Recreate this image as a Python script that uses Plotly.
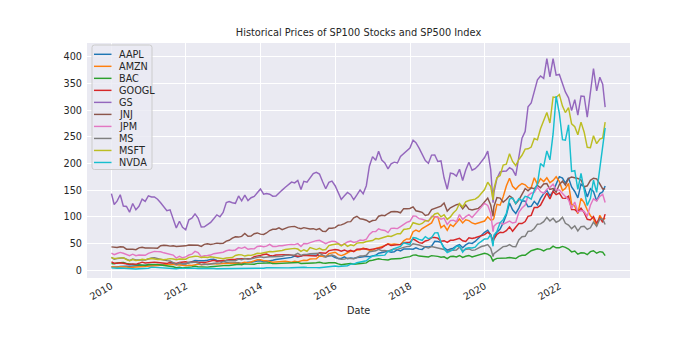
import pandas as pd
import plotly.graph_objects as go

# ---------------- data (adjusted close) ----------------
# dates: first trading day, month ends Jan-2010..Feb-2023 (with the Mar-2020 low), last day
month_ends = [d.strftime("%Y-%m-%d") for d in pd.date_range("2010-01-31", "2023-02-28", freq="ME")]
dates = ["2010-01-04"] + month_ends[:122] + ["2020-03-23"] + month_ends[122:] + ["2023-03-24"]

AAPL = [6.5,
    5.9, 6.3, 7.2, 8.0, 7.9, 7.7, 7.9, 7.5, 8.7, 9.2, 9.5, 9.9,
    10.4, 10.8, 10.7, 10.7, 10.7, 10.3, 12.0, 11.8, 11.7, 12.4, 11.7, 12.4,
    14.0, 16.7, 18.4, 18.0, 17.8, 18.0, 18.8, 20.5, 20.6, 18.4, 18.1, 16.5,
    14.1, 13.8, 13.8, 13.8, 14.0, 12.4, 14.2, 15.3, 15.0, 16.5, 17.6, 17.8,
    15.9, 16.7, 17.1, 18.8, 20.2, 20.8, 21.4, 23.0, 22.7, 24.3, 26.8, 24.9,
    26.5, 29.1, 28.2, 28.4, 29.6, 28.5, 27.6, 25.7, 25.2, 27.3, 27.3, 24.1,
    22.3, 22.2, 25.1, 21.6, 23.1, 22.1, 24.1, 24.6, 26.2, 26.4, 25.7, 27.0,
    28.3, 32.0, 33.6, 33.7, 35.8, 33.8, 34.9, 38.6, 36.3, 39.8, 40.5, 40.0,
    39.6, 42.1, 39.7, 39.2, 44.4, 44.0, 45.3, 54.3, 53.9, 52.3, 42.7, 37.8,
    39.9, 41.6, 45.6, 48.3, 42.2, 47.7, 51.4, 50.5, 54.2, 60.3, 64.9, 71.3,
    75.2, 66.5, 55.5, 61.9, 71.6, 77.5, 89.0, 103.9, 126.2, 113.4, 106.6, 116.7, 130.2,
    129.5, 119.1, 120.1, 129.3, 122.7, 134.9, 143.8, 149.8, 139.7, 148.0, 163.4, 175.7,
    173.0, 163.6, 173.1, 156.4, 147.8, 135.9, 161.6, 156.5, 137.7, 152.9, 147.8, 129.8,
    143.9, 147.1, 158.0]

AMZN = [6.7,
    6.27, 5.92, 6.79, 6.86, 6.28, 5.46, 5.89, 6.24, 7.85, 8.26, 8.77, 9.0,
    8.48, 8.67, 9.0, 9.79, 9.83, 10.2, 11.1, 10.8, 10.8, 10.7, 9.6, 8.66,
    9.72, 8.98, 10.1, 11.6, 10.6, 11.4, 11.7, 12.4, 12.7, 11.6, 12.6, 12.5,
    13.3, 13.2, 13.3, 12.7, 13.5, 13.9, 15.1, 14.0, 15.6, 18.2, 19.7, 19.9,
    17.9, 18.1, 16.8, 15.2, 15.6, 16.2, 15.6, 17.0, 16.1, 15.3, 16.9, 15.5,
    17.7, 19.0, 18.6, 21.1, 21.5, 21.7, 26.8, 25.6, 25.6, 31.3, 33.2, 33.8,
    29.4, 27.6, 29.7, 33.0, 36.1, 35.8, 37.9, 38.5, 41.9, 39.5, 37.5, 37.5,
    41.2, 42.3, 44.3, 46.2, 49.7, 48.4, 49.4, 49.0, 48.1, 55.3, 58.8, 58.5,
    72.5, 75.6, 72.4, 78.3, 81.5, 85.0, 88.9, 100.6, 100.2, 79.9, 84.5, 75.1,
    85.9, 82.0, 89.0, 96.3, 88.8, 94.7, 93.3, 88.8, 86.8, 88.8, 90.0, 92.4,
    100.4, 94.2, 95.1, 97.5, 123.7, 122.1, 137.9, 158.2, 172.5, 157.4, 151.8, 158.4, 162.8,
    160.3, 154.6, 154.7, 173.4, 161.2, 172.0, 166.4, 173.5, 164.3, 168.6, 175.4, 166.7,
    149.6, 153.6, 163.0, 124.3, 120.2, 106.2, 135.0, 126.8, 113.0, 102.4, 96.5, 84.0,
    103.1, 94.2, 98.1]

BAC = [12.9,
    12.4, 13.7, 14.6, 14.6, 12.9, 11.8, 11.5, 10.2, 10.7, 9.4, 9.0, 10.9,
    11.3, 11.7, 10.9, 10.1, 9.6, 9.0, 8.0, 6.7, 5.0, 5.6, 4.5, 4.6,
    5.8, 6.5, 7.8, 6.7, 6.0, 6.7, 6.0, 6.6, 7.2, 7.6, 8.1, 9.5,
    9.3, 9.2, 10.0, 10.1, 11.2, 10.5, 12.0, 11.6, 11.3, 11.4, 13.0, 12.8,
    13.9, 13.7, 14.3, 12.6, 12.6, 12.8, 12.7, 13.4, 14.2, 14.2, 14.1, 14.8,
    12.7, 13.3, 12.9, 13.4, 13.9, 14.3, 15.0, 13.7, 13.1, 14.1, 14.6, 14.1,
    12.0, 10.6, 11.5, 12.4, 12.6, 11.3, 12.3, 13.7, 13.3, 14.0, 18.0, 18.8,
    19.7, 21.5, 20.5, 20.3, 19.5, 21.1, 21.0, 20.8, 22.0, 23.8, 24.5, 25.7,
    28.5, 28.6, 26.7, 26.6, 25.8, 25.1, 27.5, 27.5, 26.2, 24.5, 25.3, 21.9,
    25.9, 26.5, 25.1, 27.8, 24.2, 26.4, 27.9, 25.0, 26.5, 28.5, 30.3, 32.1,
    30.5, 26.5, 16.8, 19.7, 22.4, 22.4, 22.1, 23.1, 23.9, 22.4, 22.0, 26.2, 28.2,
    28.2, 33.0, 36.8, 38.5, 40.3, 39.2, 36.4, 39.7, 40.3, 45.4, 42.2, 42.3,
    44.8, 42.9, 40.0, 34.6, 36.1, 30.2, 32.8, 32.6, 29.3, 35.0, 36.7, 32.1,
    35.0, 34.0, 27.5]

GOOGL = [15.68,
    13.25, 13.17, 14.18, 13.14, 12.14, 11.12, 12.12, 11.25, 13.14, 15.34, 13.89, 14.85,
    15.01, 15.33, 14.67, 13.60, 13.23, 12.66, 15.09, 13.52, 12.88, 14.82, 14.99, 16.15,
    14.52, 15.46, 16.03, 15.12, 14.52, 14.50, 15.81, 17.13, 18.86, 17.01, 17.46, 17.69,
    18.89, 20.03, 19.86, 20.62, 21.78, 22.01, 22.19, 21.17, 21.90, 25.77, 26.49, 28.02,
    29.52, 30.39, 27.86, 26.73, 28.58, 29.23, 29.63, 29.37, 29.42, 28.39, 27.45, 26.53,
    26.88, 28.13, 27.74, 27.44, 27.27, 27.0, 32.88, 32.39, 31.92, 36.87, 38.14, 38.90,
    38.07, 35.86, 38.15, 35.39, 37.44, 35.18, 39.57, 39.49, 40.20, 40.50, 38.79, 39.62,
    41.0, 42.25, 42.39, 46.23, 49.35, 46.48, 47.28, 47.76, 48.69, 51.65, 51.81, 52.67,
    59.11, 55.24, 51.86, 50.93, 55.0, 56.46, 61.36, 61.59, 60.35, 54.53, 55.48, 52.25,
    56.29, 56.33, 58.84, 59.95, 55.33, 54.14, 60.91, 59.53, 61.06, 62.94, 65.20, 66.97,
    71.64, 66.96, 52.8, 58.10, 67.34, 71.45, 70.68, 74.40, 81.48, 73.28, 80.81, 87.72, 87.63,
    91.37, 101.1, 103.1, 117.7, 117.8, 122.1, 134.7, 144.7, 133.7, 148.0, 141.9, 144.9,
    135.3, 134.9, 139.1, 114.1, 113.8, 109.0, 116.3, 108.2, 95.7, 94.5, 101.0, 88.2,
    98.8, 90.1, 105.4]

GS = [143.7,
    123.4, 129.7, 141.6, 120.5, 119.8, 109.0, 125.2, 113.6, 120.0, 133.6, 129.3, 139.6,
    137.4, 137.6, 133.2, 126.8, 118.2, 111.8, 113.4, 97.7, 79.5, 92.1, 80.5, 75.9,
    94.8, 97.8, 105.7, 97.9, 81.3, 81.5, 85.8, 89.8, 96.6, 104.0, 100.4, 108.5,
    127.1, 128.8, 126.6, 125.6, 139.4, 130.1, 141.0, 130.8, 136.1, 138.4, 145.3, 152.5,
    142.8, 144.0, 142.6, 139.0, 139.1, 145.6, 150.4, 155.8, 159.7, 165.3, 163.9, 168.6,
    151.7, 166.8, 165.4, 172.8, 181.5, 183.7, 180.5, 166.0, 152.9, 165.0, 167.2, 158.6,
    143.6, 133.0, 139.7, 146.0, 141.9, 132.3, 141.3, 150.8, 143.6, 158.6, 195.2, 213.2,
    206.4, 223.2, 206.7, 201.4, 190.1, 199.7, 202.8, 201.3, 213.5, 218.3, 222.8, 229.3,
    243.8, 239.2, 229.2, 216.9, 205.6, 200.7, 216.0, 216.4, 204.0, 205.1, 173.5, 152.1,
    182.2, 181.1, 176.6, 189.4, 168.4, 188.2, 202.5, 187.6, 190.6, 196.3, 203.6, 211.5,
    223.5, 188.8, 126.9, 145.3, 172.4, 184.7, 185.7, 186.1, 192.6, 188.9, 177.7, 216.8, 247.9,
    260.4, 306.7, 313.9, 334.5, 357.2, 364.3, 359.9, 397.0, 362.9, 396.9, 365.8, 367.2,
    347.6, 334.4, 323.5, 299.4, 320.1, 291.1, 326.7, 326.2, 287.2, 337.6, 378.4, 336.5,
    362.0, 349.0, 306.0]

JNJ = [44.0,
    42.8, 42.8, 44.3, 43.7, 39.6, 40.2, 39.5, 38.8, 42.1, 43.3, 41.9, 42.1,
    41.9, 43.0, 41.5, 46.0, 47.1, 46.6, 45.4, 46.1, 44.6, 45.1, 45.3, 45.9,
    47.4, 46.9, 47.5, 46.9, 44.9, 48.7, 49.8, 48.5, 49.6, 51.0, 50.2, 50.5,
    54.7, 56.3, 60.3, 63.0, 62.3, 63.6, 69.2, 63.9, 64.2, 68.5, 70.1, 67.8,
    67.3, 70.0, 74.6, 77.0, 77.1, 79.5, 76.1, 78.8, 81.0, 81.9, 82.3, 79.5,
    78.1, 80.0, 78.5, 77.4, 78.1, 76.1, 78.2, 73.3, 72.9, 78.8, 78.9, 80.1,
    84.6, 85.2, 87.6, 90.8, 91.3, 98.3, 101.4, 96.6, 95.7, 94.0, 90.2, 93.3,
    94.0, 101.4, 103.3, 102.5, 106.5, 109.8, 110.1, 109.9, 107.9, 115.7, 115.6, 116.0,
    118.9, 111.7, 110.3, 108.8, 102.9, 104.3, 114.0, 115.8, 118.9, 120.4, 126.3, 111.0,
    117.1, 120.2, 123.0, 124.3, 115.5, 122.6, 114.6, 113.0, 113.9, 116.2, 121.0, 128.4,
    135.5, 122.4, 101.1, 119.3, 136.5, 135.3, 127.9, 132.7, 139.6, 135.5, 124.8, 131.7, 143.2,
    153.3, 149.0, 154.5, 152.9, 159.1, 154.8, 161.9, 162.7, 151.8, 153.1, 146.5, 160.8,
    167.1, 159.7, 171.9, 175.1, 174.1, 172.2, 169.3, 156.5, 158.5, 168.8, 172.7, 171.4,
    162.0, 152.5, 153.0]

JPM = [32.1,
    29.2, 31.5, 33.6, 32.0, 29.7, 27.5, 30.2, 27.3, 28.6, 28.2, 28.1, 31.8,
    34.1, 35.5, 35.0, 34.7, 32.8, 31.1, 30.8, 28.6, 22.9, 26.4, 23.5, 25.3,
    28.7, 30.2, 35.4, 33.1, 25.6, 27.5, 27.7, 28.6, 31.2, 32.1, 31.6, 33.9,
    36.7, 38.1, 37.1, 38.2, 42.6, 41.2, 43.4, 39.4, 40.3, 40.2, 44.6, 45.6,
    44.3, 45.4, 48.6, 44.8, 44.5, 46.1, 46.2, 47.6, 48.2, 48.4, 48.2, 50.1,
    44.6, 50.3, 49.7, 51.9, 54.0, 55.6, 56.2, 52.6, 50.0, 52.7, 54.7, 54.1,
    50.0, 47.3, 49.7, 53.1, 54.9, 52.2, 53.8, 56.7, 55.9, 58.2, 67.4, 72.5,
    72.8, 77.9, 75.5, 74.8, 70.7, 78.6, 78.9, 78.2, 82.1, 86.5, 89.9, 91.9,
    101.8, 101.6, 96.8, 95.7, 94.2, 91.7, 101.1, 100.8, 99.3, 95.9, 97.9, 85.9,
    93.2, 94.0, 91.1, 104.5, 95.4, 100.6, 104.4, 98.9, 105.9, 112.4, 118.6, 125.5,
    121.8, 106.8, 72.7, 82.8, 88.1, 89.5, 86.6, 88.9, 92.2, 88.6, 90.2, 108.5, 116.9,
    122.3, 139.8, 144.6, 146.1, 156.0, 147.7, 144.2, 152.0, 155.5, 161.4, 150.9, 150.5,
    144.1, 137.5, 132.2, 115.8, 128.2, 109.2, 111.9, 110.3, 101.4, 122.1, 134.1, 130.1,
    138.5, 142.5, 127.0]

MS = [24.1,
    20.9, 22.0, 22.9, 23.6, 21.1, 18.1, 21.1, 19.3, 19.3, 19.4, 19.1, 21.2,
    23.2, 23.5, 21.6, 20.7, 19.1, 18.2, 17.6, 14.3, 10.7, 13.9, 11.7, 11.9,
    15.0, 14.8, 15.7, 13.8, 10.7, 11.7, 11.0, 12.0, 13.4, 13.9, 13.5, 15.3,
    18.5, 18.1, 17.8, 18.0, 21.0, 19.8, 22.0, 20.9, 21.8, 23.2, 25.4, 25.4,
    24.2, 25.3, 25.6, 25.3, 25.3, 26.5, 26.5, 28.1, 28.4, 28.6, 28.9, 31.8,
    28.1, 29.7, 29.6, 31.0, 31.7, 32.2, 32.2, 28.6, 26.1, 27.4, 28.5, 26.4,
    21.8, 20.7, 21.0, 22.8, 23.0, 21.8, 24.1, 27.0, 27.0, 28.2, 34.8, 35.5,
    36.6, 39.3, 36.8, 37.3, 35.9, 38.4, 40.3, 39.3, 41.5, 43.0, 44.4, 45.2,
    49.8, 49.3, 47.5, 45.4, 44.1, 41.7, 44.5, 42.9, 41.0, 40.2, 39.1, 34.8,
    38.1, 37.8, 38.0, 43.5, 36.6, 39.4, 40.1, 37.4, 38.4, 41.5, 44.6, 46.0,
    48.1, 41.4, 26.0, 31.3, 36.2, 40.7, 44.4, 45.0, 48.1, 44.4, 44.3, 56.9, 63.0,
    63.7, 73.1, 73.8, 78.4, 86.5, 87.1, 91.2, 99.2, 92.4, 97.7, 90.1, 93.3,
    99.4, 88.1, 84.8, 78.2, 83.5, 73.8, 81.8, 82.6, 76.6, 79.7, 90.3, 82.5,
    96.5, 95.8, 86.0]

MSFT = [24.1,
    22.0, 22.4, 22.9, 23.8, 20.1, 17.9, 20.1, 18.3, 19.1, 20.8, 19.7, 21.8,
    22.2, 21.3, 20.3, 20.8, 20.0, 20.8, 21.9, 21.3, 19.9, 21.3, 20.5, 20.8,
    24.2, 26.0, 26.5, 26.2, 23.9, 25.1, 24.2, 25.3, 24.4, 23.4, 21.8, 21.9,
    23.1, 23.4, 24.0, 27.8, 29.3, 29.0, 26.7, 28.1, 28.0, 29.7, 32.0, 31.4,
    32.5, 32.9, 35.3, 34.7, 35.2, 35.9, 37.2, 39.0, 39.9, 40.4, 41.1, 39.9,
    35.6, 38.6, 35.8, 42.8, 41.3, 38.9, 41.1, 38.3, 39.0, 46.3, 47.8, 48.8,
    49.6, 45.8, 49.7, 44.9, 47.7, 46.1, 51.0, 51.8, 51.8, 53.9, 54.3, 55.9,
    59.5, 58.9, 60.6, 63.0, 64.2, 63.4, 66.9, 68.8, 68.5, 76.5, 77.5, 78.7,
    89.3, 88.2, 85.8, 87.9, 92.9, 92.7, 99.7, 105.6, 107.5, 100.4, 104.2, 95.5,
    100.2, 107.5, 113.2, 125.4, 118.8, 128.6, 130.8, 132.4, 133.4, 137.7, 145.3, 151.4,
    165.1, 157.1, 131.9, 153.0, 173.8, 177.8, 197.4, 198.9, 218.7, 204.0, 196.4, 207.7, 215.7,
    227.3, 227.8, 231.1, 247.2, 244.7, 265.5, 279.2, 295.9, 276.3, 325.0, 324.0, 329.6,
    307.9, 295.8, 305.2, 274.7, 269.2, 254.2, 277.9, 258.9, 230.6, 229.8, 252.5, 237.4,
    246.0, 248.0, 278.0]

NVDA = [4.62,
    3.85, 4.03, 4.35, 3.93, 3.32, 2.55, 2.30, 2.33, 2.92, 3.01, 3.46, 3.85,
    5.96, 5.53, 4.62, 5.0, 5.03, 3.98, 3.47, 3.22, 3.13, 3.69, 3.88, 3.47,
    3.69, 3.71, 3.85, 3.25, 3.45, 3.46, 3.29, 3.53, 3.34, 2.99, 3.0, 3.07,
    3.21, 3.17, 3.21, 3.46, 3.63, 3.51, 3.63, 3.90, 3.89, 3.80, 3.96, 4.0,
    3.92, 4.63, 4.48, 4.60, 4.75, 4.64, 4.37, 4.90, 4.61, 4.88, 5.25, 5.01,
    5.26, 5.80, 5.23, 5.55, 5.51, 5.03, 4.99, 5.65, 6.16, 7.09, 7.97, 8.24,
    7.32, 7.84, 8.91, 8.68, 11.63, 11.75, 14.26, 15.34, 17.13, 17.80, 23.08, 26.69,
    27.30, 27.23, 27.23, 28.44, 35.97, 36.14, 40.63, 42.37, 44.69, 51.71, 50.02, 48.37,
    61.45, 60.48, 57.90, 56.24, 63.19, 59.23, 61.22, 70.17, 70.25, 52.72, 40.84, 33.37,
    35.94, 38.53, 44.89, 45.25, 33.84, 41.06, 42.20, 41.86, 43.52, 50.26, 54.18, 58.83,
    59.11, 67.52, 45.0, 65.90, 73.07, 89.14, 94.98, 106.13, 133.75, 135.30, 125.35, 134.06, 130.55,
    138.57, 137.15, 133.48, 150.09, 162.20, 200.02, 194.99, 223.85, 207.16, 255.67, 326.76, 294.11,
    244.86, 243.85, 272.86, 185.47, 186.72, 151.59, 181.63, 150.94, 121.39, 134.97, 169.23, 146.14,
    195.37, 232.16, 267.0]

tickers = ["AAPL", "AMZN", "BAC", "GOOGL", "GS", "JNJ", "JPM", "MS", "MSFT", "NVDA"]
series = [AAPL, AMZN, BAC, GOOGL, GS, JNJ, JPM, MS, MSFT, NVDA]
colors = ["#1f77b4", "#ff7f0e", "#2ca02c", "#d62728", "#9467bd",
          "#8c564b", "#e377c2", "#7f7f7f", "#bcbd22", "#17becf"]

for t, s in zip(tickers, series):
    if len(s) != len(dates):
        raise ValueError(f"{t}: {len(s)} values vs {len(dates)} dates")

# ---------------- layout geometry (pixels) ----------------
W, H = 700, 350
L, R, T, B = 87, 630, 43, 278          # plot area edges
TXT = "#262626"
FONT = "DejaVu Sans"

def px_x(px):
    return (px - L) / (R - L)

def px_y(py):
    return (B - py) / (B - T)

fig = go.Figure()
for t, s, c in zip(tickers, series, colors):
    fig.add_trace(go.Scatter(x=dates, y=s, mode="lines", name=t,
                             line=dict(color=c, width=1.45), showlegend=False))

# manual matplotlib-style legend
box = dict(x0=92, x1=152, y0=45, y1=169.5)
r = 2.5
x0, x1 = px_x(box["x0"]), px_x(box["x1"])
y0, y1 = px_y(box["y1"]), px_y(box["y0"])
rx, ry = r / (R - L), r / (B - T)
path = (f"M {x0+rx},{y0} L {x1-rx},{y0} Q {x1},{y0} {x1},{y0+ry} "
        f"L {x1},{y1-ry} Q {x1},{y1} {x1-rx},{y1} L {x0+rx},{y1} "
        f"Q {x0},{y1} {x0},{y1-ry} L {x0},{y0+ry} Q {x0},{y0} {x0+rx},{y0} Z")
shapes = [dict(type="path", path=path, xref="paper", yref="paper", layer="above",
               fillcolor="rgba(234,234,242,0.8)", line=dict(color="#cccccc", width=1))]
annotations = []
for i, (t, c) in enumerate(zip(tickers, colors)):
    yy = px_y(54.3 + 12.02 * i)
    shapes.append(dict(type="line", xref="paper", yref="paper", layer="above",
                       x0=px_x(94), x1=px_x(111.5), y0=yy, y1=yy,
                       line=dict(color=c, width=1.45)))
    annotations.append(dict(text=t, xref="paper", yref="paper", x=px_x(116.5), y=yy,
                            xanchor="left", yanchor="middle", showarrow=False,
                            font=dict(family=FONT, size=9.7, color=TXT)))

annotations.append(dict(text="Date", xref="paper", yref="paper", x=0.5, y=px_y(310),
                        xanchor="center", yanchor="middle", showarrow=False,
                        font=dict(family=FONT, size=9.7, color=TXT)))

fig.update_layout(
    width=W, height=H, autosize=False,
    margin=dict(l=L, r=W - R, t=T, b=H - B, pad=0),
    paper_bgcolor="white", plot_bgcolor="#EAEAF2",
    font=dict(family=FONT, size=9.7, color=TXT),
    title=dict(text="Historical Prices of SP100 Stocks and SP500 Index",
               x=0.5, xref="paper", xanchor="center",
               y=1 - 33 / H, yref="container", yanchor="middle",
               font=dict(family=FONT, size=9.8, color=TXT)),
    shapes=shapes, annotations=annotations,
    xaxis=dict(type="date", range=["2009-05-10", "2023-11-22"],
               tick0="2010-01-01", dtick="M24", tickformat="%Y",
               tickangle=-30, ticks="", showgrid=True, gridcolor="white", gridwidth=1,
               zeroline=False, showline=False,
               tickfont=dict(family=FONT, size=9.7, color=TXT)),
    yaxis=dict(range=[-14.4, 426.2], tick0=0, dtick=50, ticks="",
               showgrid=True, gridcolor="white", gridwidth=1,
               zeroline=False, showline=False, ticklabelstandoff=4,
               tickfont=dict(family=FONT, size=9.7, color=TXT)),
)

fig.write_html("out.html", config={"displayModeBar": False})
